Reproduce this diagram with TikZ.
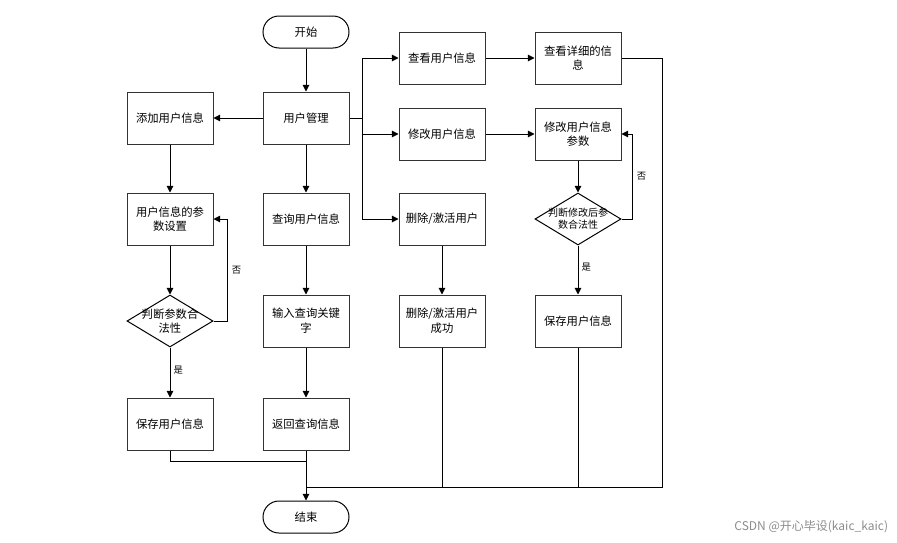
\documentclass[tikz,border=0pt]{standalone}
\usepackage{fontspec}
\setmainfont{Noto Sans CJK SC}
\usetikzlibrary{shapes.geometric,arrows.meta}
\begin{document}
\begin{tikzpicture}[x=0.75pt,y=-0.75pt,font=\fontsize{8.5}{11}\selectfont,line width=0.75pt,
  box/.style={draw,draw=black!80,minimum width=64.5pt,minimum height=39pt,align=center,inner sep=1pt},
  term/.style={draw,rounded corners=12pt,minimum width=64.5pt,minimum height=24pt},
  dia/.style={draw,diamond,aspect=1.65,minimum width=64.5pt,minimum height=39pt,inner sep=-5pt,align=center},
  arr/.style={-{Triangle[length=5pt,width=5pt]}},
  lab/.style={font=\fontsize{7}{8}\selectfont}]
\useasboundingbox (0,0) rectangle (897,543);
\node[term] (s) at (306,32) {开始};
\node[box] (um) at (306,118) {用户管理};
\node[box] (add) at (170,118) {添加用户信息};
\node[box] (ps) at (170,219) {用户信息的参\\数设置};
\node[dia] (d1) at (170,321) {判断参数合\\法性};
\node[box] (sv1) at (170,424) {保存用户信息};
\node[box] (q) at (306,219) {查询用户信息};
\node[box] (kw) at (306,321) {输入查询关键\\字};
\node[box] (ret) at (306,424) {返回查询信息};
\node[box] (view) at (442,58) {查看用户信息};
\node[box] (mod) at (442,134) {修改用户信息};
\node[box] (del) at (442,219) {删除/激活用户};
\node[box] (delok) at (442,321) {删除/激活用户\\成功};
\node[box] (det) at (578,58) {查看详细的信\\息};
\node[box] (mp) at (578,134) {修改用户信息\\参数};
\node[dia,font=\fontsize{7.5}{9}\selectfont] (d2) at (578,219) {判断修改后参\\数合法性};
\node[box] (sv2) at (578,321) {保存用户信息};
\node[term] (e) at (306,517) {结束};
\coordinate (br) at (362,118);
\coordinate (m1) at (306,461);
\coordinate (m2) at (306,487);
\coordinate (rc) at (662,487);
\draw[arr] (s) -- (um);
\draw[arr] (um) -- (add);
\draw[arr] (add) -- (ps);
\draw[arr] (ps) -- (d1);
\draw[arr] (d1) -- node[right=-1pt,pos=0.45,lab]{是} (sv1);
\draw[arr] (d1.east) -- (227,321) -- node[right,lab]{否} (227,219) -- (ps.east);
\draw[arr] (um) -- (q);
\draw[arr] (q) -- (kw);
\draw[arr] (kw) -- (ret);
\draw (um.east) -- (br);
\draw[arr] (br) |- (view.west);
\draw[arr] (br) |- (mod.west);
\draw[arr] (br) |- (del.west);
\draw[arr] (view) -- (det);
\draw[arr] (mod) -- (mp);
\draw[arr] (del) -- (delok);
\draw[arr] (mp) -- (d2);
\draw[arr] (d2) -- node[right=-1pt,pos=0.45,lab]{是} (sv2);
\draw[arr] (d2.east) -- (632,219) -- node[right,lab]{否} (632,134) -- (mp.east);
\draw (sv1.south) |- (m1);
\draw[arr] (ret) -- (e);
\draw (delok.south) -- (442,487);
\draw (sv2.south) -- (578,487);
\draw (det.east) -| (rc) -- (m2);
\node[text=black!45,font=\fontsize{9}{10}\selectfont,anchor=east] (wm) at (893,527) {CSDN @开心毕设(kaic\_kaic)};
\end{tikzpicture}
\end{document}
